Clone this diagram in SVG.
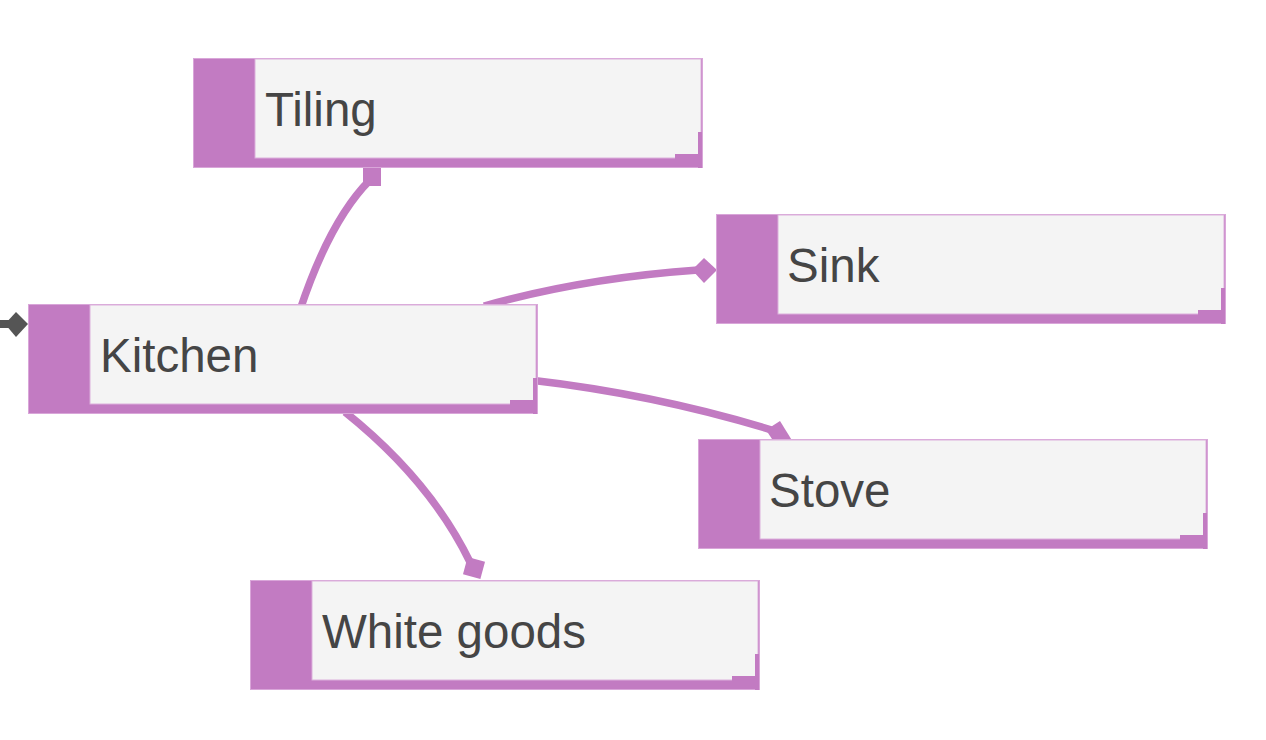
<svg xmlns="http://www.w3.org/2000/svg" width="1266" height="740" viewBox="0 0 1266 740">
<style>
.edge{fill:none;stroke:#c27bc2;stroke-width:7.5;stroke-linecap:butt}
.head{fill:#c27bc2}
.outer{fill:#c27bc2;stroke:#d9a6d9;stroke-width:1}
.inner{fill:#f4f4f4;stroke:#dcb0dc;stroke-width:1}
.acc{fill:#c27bc2}
.lbl{font-family:"Liberation Sans",Arial,sans-serif;font-size:47.5px;fill:#454545}
</style>
<defs>
<g id="box">
<rect class="outer" x="0.5" y="0.5" width="509" height="109"/>
<rect class="inner" x="62" y="1" width="446" height="99"/>
<rect class="acc" x="482" y="96" width="26" height="5"/>
<rect class="acc" x="505" y="74" width="4" height="36"/>
</g>
</defs>
<rect width="1266" height="740" fill="#ffffff"/>
<g id="connectors">
<path class="edge" d="M300,310 Q330,220 370,180"/>
<rect class="head" x="363" y="168" width="18" height="18"/>
<path class="edge" d="M484,306 Q584,278 698,270"/>
<polygon class="head" points="692,270 704,258 717,270 704,283"/>
<path class="edge" d="M530,380 Q660,395 778,432"/>
<polygon class="head" points="766,430 780,421 793,442 774,442"/>
<path class="edge" d="M345,412 Q430,480 470,562"/>
<rect class="head" x="465" y="559" width="18" height="18" transform="rotate(15 474 568)"/>
<line x1="0" y1="324" x2="10" y2="324" stroke="#555555" stroke-width="8"/>
<polygon points="5,324 16,312 28,324 16,337" fill="#555555"/>
</g>
<g id="node-tiling" transform="translate(193,58)">
<use href="#box"/>
<text class="lbl" x="72" y="68">Tiling</text>
</g>
<g id="node-kitchen" transform="translate(28,304)">
<use href="#box"/>
<text class="lbl" x="72" y="68">Kitchen</text>
</g>
<g id="node-sink" transform="translate(716,214)">
<use href="#box"/>
<text class="lbl" x="71" y="68">Sink</text>
</g>
<g id="node-stove" transform="translate(698,439)">
<use href="#box"/>
<text class="lbl" x="71" y="68">Stove</text>
</g>
<g id="node-whitegoods" transform="translate(250,580)">
<use href="#box"/>
<text class="lbl" x="72" y="68">White goods</text>
</g>
</svg>
